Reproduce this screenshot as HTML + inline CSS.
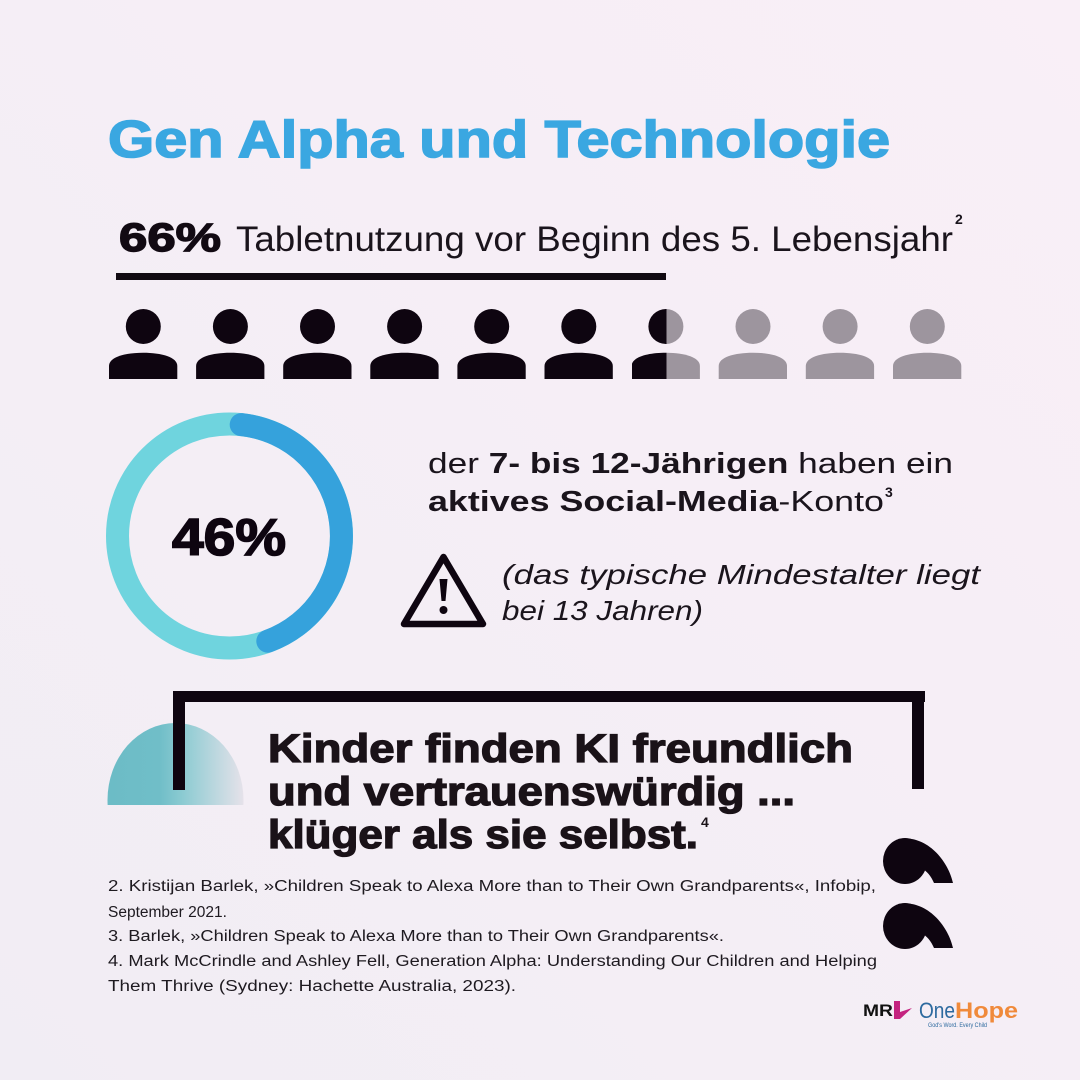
<!DOCTYPE html>
<html><head><meta charset="utf-8"><style>
html,body{margin:0;padding:0;width:1080px;height:1080px;overflow:hidden;background:#f4eef5}
svg{display:block}
text{font-family:"Liberation Sans",sans-serif}
</style></head><body>
<svg width="1080" height="1080" viewBox="0 0 1080 1080" xmlns="http://www.w3.org/2000/svg">
<defs>
<linearGradient id="bg" x1="0" y1="1" x2="1" y2="0">
<stop offset="0" stop-color="#f1edf4"/><stop offset="1" stop-color="#f9eff7"/>
</linearGradient>
<linearGradient id="dome" x1="108" y1="0" x2="244" y2="0" gradientUnits="userSpaceOnUse">
<stop offset="0" stop-color="#6cbcc6"/><stop offset="0.38" stop-color="#70bec8"/><stop offset="0.55" stop-color="#8ccbd2"/><stop offset="1" stop-color="#e6e2ea"/>
</linearGradient>
<clipPath id="domeclip"><rect x="100" y="700" width="160" height="105"/></clipPath>
<clipPath id="lefthalf"><rect x="632" y="300" width="34.5" height="90"/></clipPath>
<clipPath id="righthalf"><rect x="666.5" y="300" width="40" height="90"/></clipPath>
<g id="person">
<circle cx="34.3" cy="26.5" r="17.5"/>
<path d="M0,79 L0,66 C0,57 16,52.7 34.2,52.7 C52.4,52.7 68.3,57 68.3,66 L68.3,79 Z"/>
</g>
</defs>
<rect width="1080" height="1080" fill="url(#bg)"/>

<!-- Title -->
<text x="108" y="157" font-size="52" font-weight="bold" fill="#3aa7e1" stroke="#3aa7e1" stroke-width="1.6" textLength="782" lengthAdjust="spacingAndGlyphs">Gen Alpha und Technologie</text>

<!-- 66% -->
<text x="119" y="251" font-size="40" font-weight="bold" fill="#120a13" stroke="#120a13" stroke-width="1.4" textLength="102" lengthAdjust="spacingAndGlyphs">66%</text>
<text x="236" y="251" font-size="35" fill="#1a141c" textLength="717" lengthAdjust="spacingAndGlyphs">Tabletnutzung vor Beginn des 5. Lebensjahr</text>
<text x="955" y="224" font-size="14" font-weight="bold" fill="#1a141c">2</text>
<rect x="116" y="273" width="550" height="7" fill="#110a12"/>

<!-- People -->
<g fill="#0e0510">
<use href="#person" x="109" y="300"/>
<use href="#person" x="196.1" y="300"/>
<use href="#person" x="283.2" y="300"/>
<use href="#person" x="370.3" y="300"/>
<use href="#person" x="457.4" y="300"/>
<use href="#person" x="544.5" y="300"/>
</g>
<g fill="#0e0510" clip-path="url(#lefthalf)"><use href="#person" x="631.6" y="300"/></g>
<g fill="#9d959e" clip-path="url(#righthalf)"><use href="#person" x="631.6" y="300"/></g>
<g fill="#9d959e">
<use href="#person" x="718.7" y="300"/>
<use href="#person" x="805.8" y="300"/>
<use href="#person" x="893" y="300"/>
</g>

<!-- Donut -->
<circle cx="229.5" cy="536" r="112" fill="none" stroke="#6fd4de" stroke-width="23"/>
<path d="M241.2 424.6 A112 112 0 0 1 267.8 641.2" fill="none" stroke="#35a2dc" stroke-width="23" stroke-linecap="round"/>
<text x="172" y="555" font-size="52" font-weight="bold" fill="#0e0510" stroke="#0e0510" stroke-width="1.6" textLength="114" lengthAdjust="spacingAndGlyphs">46%</text>

<!-- Right text -->
<text x="428" y="473" font-size="29" fill="#1a141c" textLength="525" lengthAdjust="spacingAndGlyphs">der <tspan font-weight="bold">7- bis 12-Jährigen</tspan> haben ein</text>
<text x="428" y="511" font-size="29" fill="#1a141c" textLength="456" lengthAdjust="spacingAndGlyphs"><tspan font-weight="bold">aktives Social-Media</tspan>-Konto</text>
<text x="885" y="497" font-size="14" font-weight="bold" fill="#1a141c">3</text>

<!-- Warning -->
<path d="M443.5 557 L404 624 L483 624 Z" fill="none" stroke="#0e0510" stroke-width="6.5" stroke-linejoin="round"/>
<path d="M439.5 579 L447.5 579 L445.5 601 L441.5 601 Z" fill="#0e0510"/>
<circle cx="443.5" cy="610" r="4" fill="#0e0510"/>
<text x="502" y="584" font-size="28" font-style="italic" fill="#1a141c" textLength="478" lengthAdjust="spacingAndGlyphs">(das typische Mindestalter liegt</text>
<text x="502" y="620" font-size="28" font-style="italic" fill="#1a141c" textLength="201" lengthAdjust="spacingAndGlyphs">bei 13 Jahren)</text>

<!-- Dome -->
<ellipse cx="175.5" cy="800" rx="68" ry="77" fill="url(#dome)" clip-path="url(#domeclip)"/>

<!-- Bracket -->
<rect x="173" y="691" width="752" height="11" fill="#0e0510"/>
<rect x="173" y="691" width="12" height="99" fill="#0e0510"/>
<rect x="912" y="691" width="12" height="98" fill="#0e0510"/>

<!-- Quote -->
<g font-size="40" font-weight="bold" fill="#1a1218" stroke="#1a1218" stroke-width="1.3">
<text x="268" y="762" textLength="585" lengthAdjust="spacingAndGlyphs">Kinder finden KI freundlich</text>
<text x="268" y="805" textLength="527" lengthAdjust="spacingAndGlyphs">und vertrauenswürdig ...</text>
<text x="268" y="848" textLength="430" lengthAdjust="spacingAndGlyphs">klüger als sie selbst.</text>
</g>
<text x="701" y="827" font-size="14" font-weight="bold" fill="#1a1218">4</text>

<!-- Quote marks -->
<g fill="#0e0510">
<ellipse cx="905" cy="861" rx="22" ry="23"/>
<path d="M898 839 C926 834 948 860 953 883 L934 883 C931 876 927 871 921 868 Z"/>
<ellipse cx="905" cy="926" rx="22" ry="23"/>
<path d="M898 904 C926 899 948 925 953 948 L934 948 C931 941 927 936 921 933 Z"/>
</g>

<!-- Footnotes -->
<g font-size="15.5" fill="#1e1a20">
<text x="108" y="891" textLength="768" lengthAdjust="spacingAndGlyphs">2. Kristijan Barlek, »Children Speak to Alexa More than to Their Own Grandparents«, Infobip,</text>
<text x="108" y="917">September 2021.</text>
<text x="108" y="941" textLength="616" lengthAdjust="spacingAndGlyphs">3. Barlek, »Children Speak to Alexa More than to Their Own Grandparents«.</text>
<text x="108" y="966" textLength="769" lengthAdjust="spacingAndGlyphs">4. Mark McCrindle and Ashley Fell, Generation Alpha: Understanding Our Children and Helping</text>
<text x="108" y="991" textLength="408" lengthAdjust="spacingAndGlyphs">Them Thrive (Sydney: Hachette Australia, 2023).</text>
</g>

<!-- Logo -->
<text x="863" y="1016" font-size="17" font-weight="bold" fill="#111" textLength="30" lengthAdjust="spacingAndGlyphs">MR</text>
<path d="M894 1001 L900 1001 L900 1012 L912 1008 L900 1019 L894 1019 Z" fill="#c4237f"/>
<text x="919" y="1018" font-size="22" fill="#2d6a9f" textLength="36" lengthAdjust="spacingAndGlyphs">One</text>
<text x="955" y="1018" font-size="22" font-weight="bold" fill="#f08a3b" textLength="63" lengthAdjust="spacingAndGlyphs">Hope</text>
<text x="928" y="1027" font-size="6.5" fill="#2d6a9f" textLength="59" lengthAdjust="spacingAndGlyphs">God's Word. Every Child</text>
</svg>
</body></html>
